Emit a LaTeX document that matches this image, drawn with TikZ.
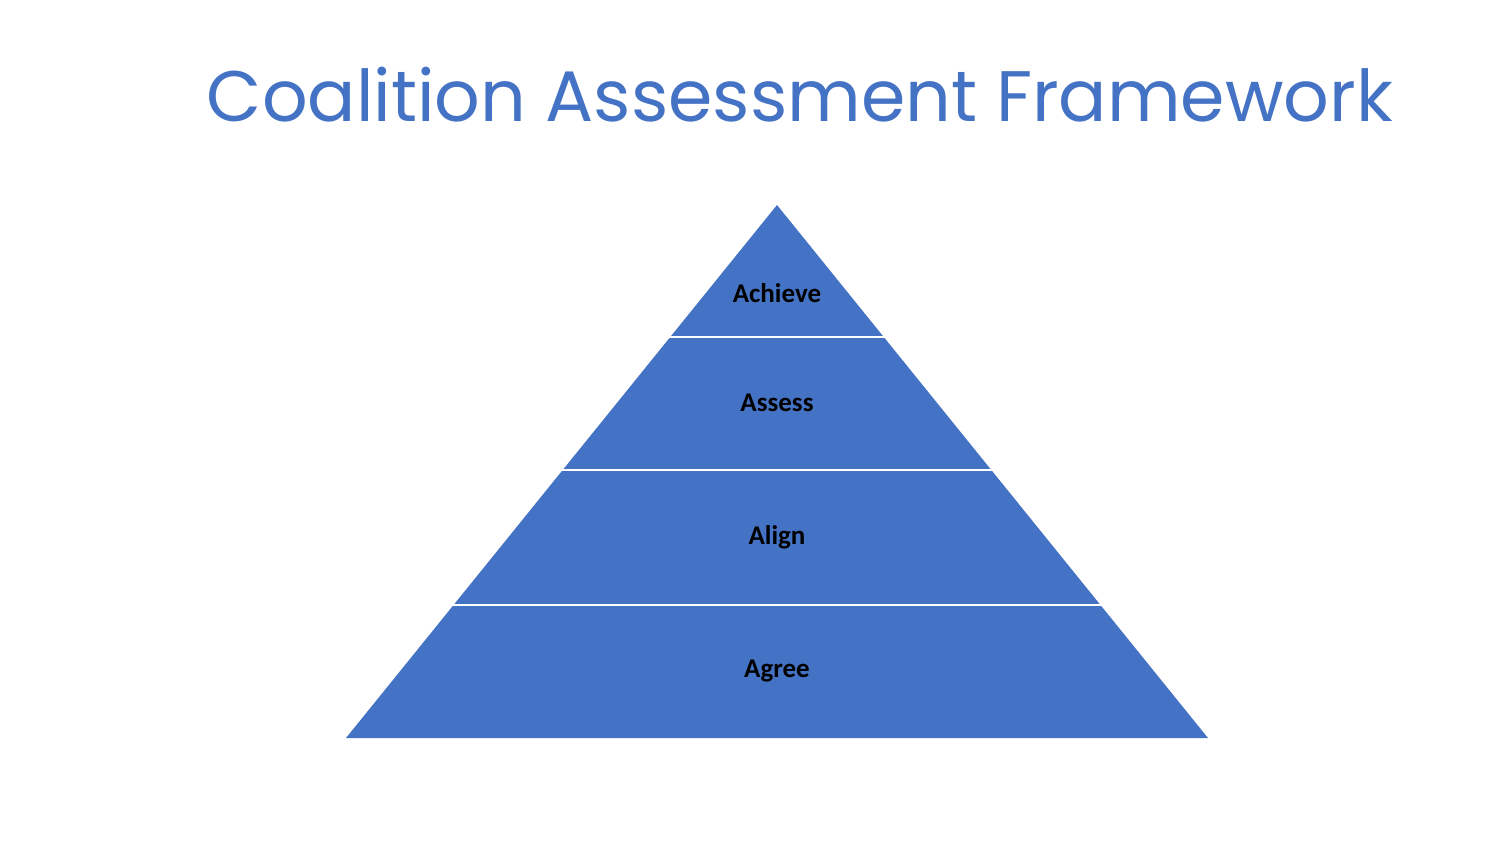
\documentclass[tikz,border=0pt]{standalone}
\usepackage{fontspec}
\setmainfont{Carlito}
\newfontfamily\titlefont{Poppins}
\definecolor{pblue}{RGB}{68,114,196}
\begin{document}
\begin{tikzpicture}[x=1pt,y=-1pt,
  lbl/.style={font=\fontsize{27}{30}\selectfont\bfseries,text=black,inner sep=0pt},
  sep/.style={draw=white,line width=2.5pt}]
\useasboundingbox[fill=white] (0,0) rectangle (1500,844);
\node[inner sep=0pt,text=pblue] (title) at (800,95)
  {\resizebox{1186pt}{!}{\titlefont Coalition Assessment Framework}};
\fill[pblue] (777,205) -- (1208,738) -- (346,738) -- cycle;
\coordinate (l1) at (668,337); \coordinate (r1) at (886,337);
\coordinate (l2) at (561,470); \coordinate (r2) at (993,470);
\coordinate (l3) at (452,605); \coordinate (r3) at (1102,605);
\draw[sep] (l1) -- (r1);
\draw[sep] (l2) -- (r2);
\draw[sep] (l3) -- (r3);
\node[lbl] (achieve) at (777,293) {Achieve};
\node[lbl] (assess) at (777,403) {Assess};
\node[lbl] (align) at (777,537) {Align};
\node[lbl] (agree) at (777,671) {Agree};
\end{tikzpicture}
\end{document}
